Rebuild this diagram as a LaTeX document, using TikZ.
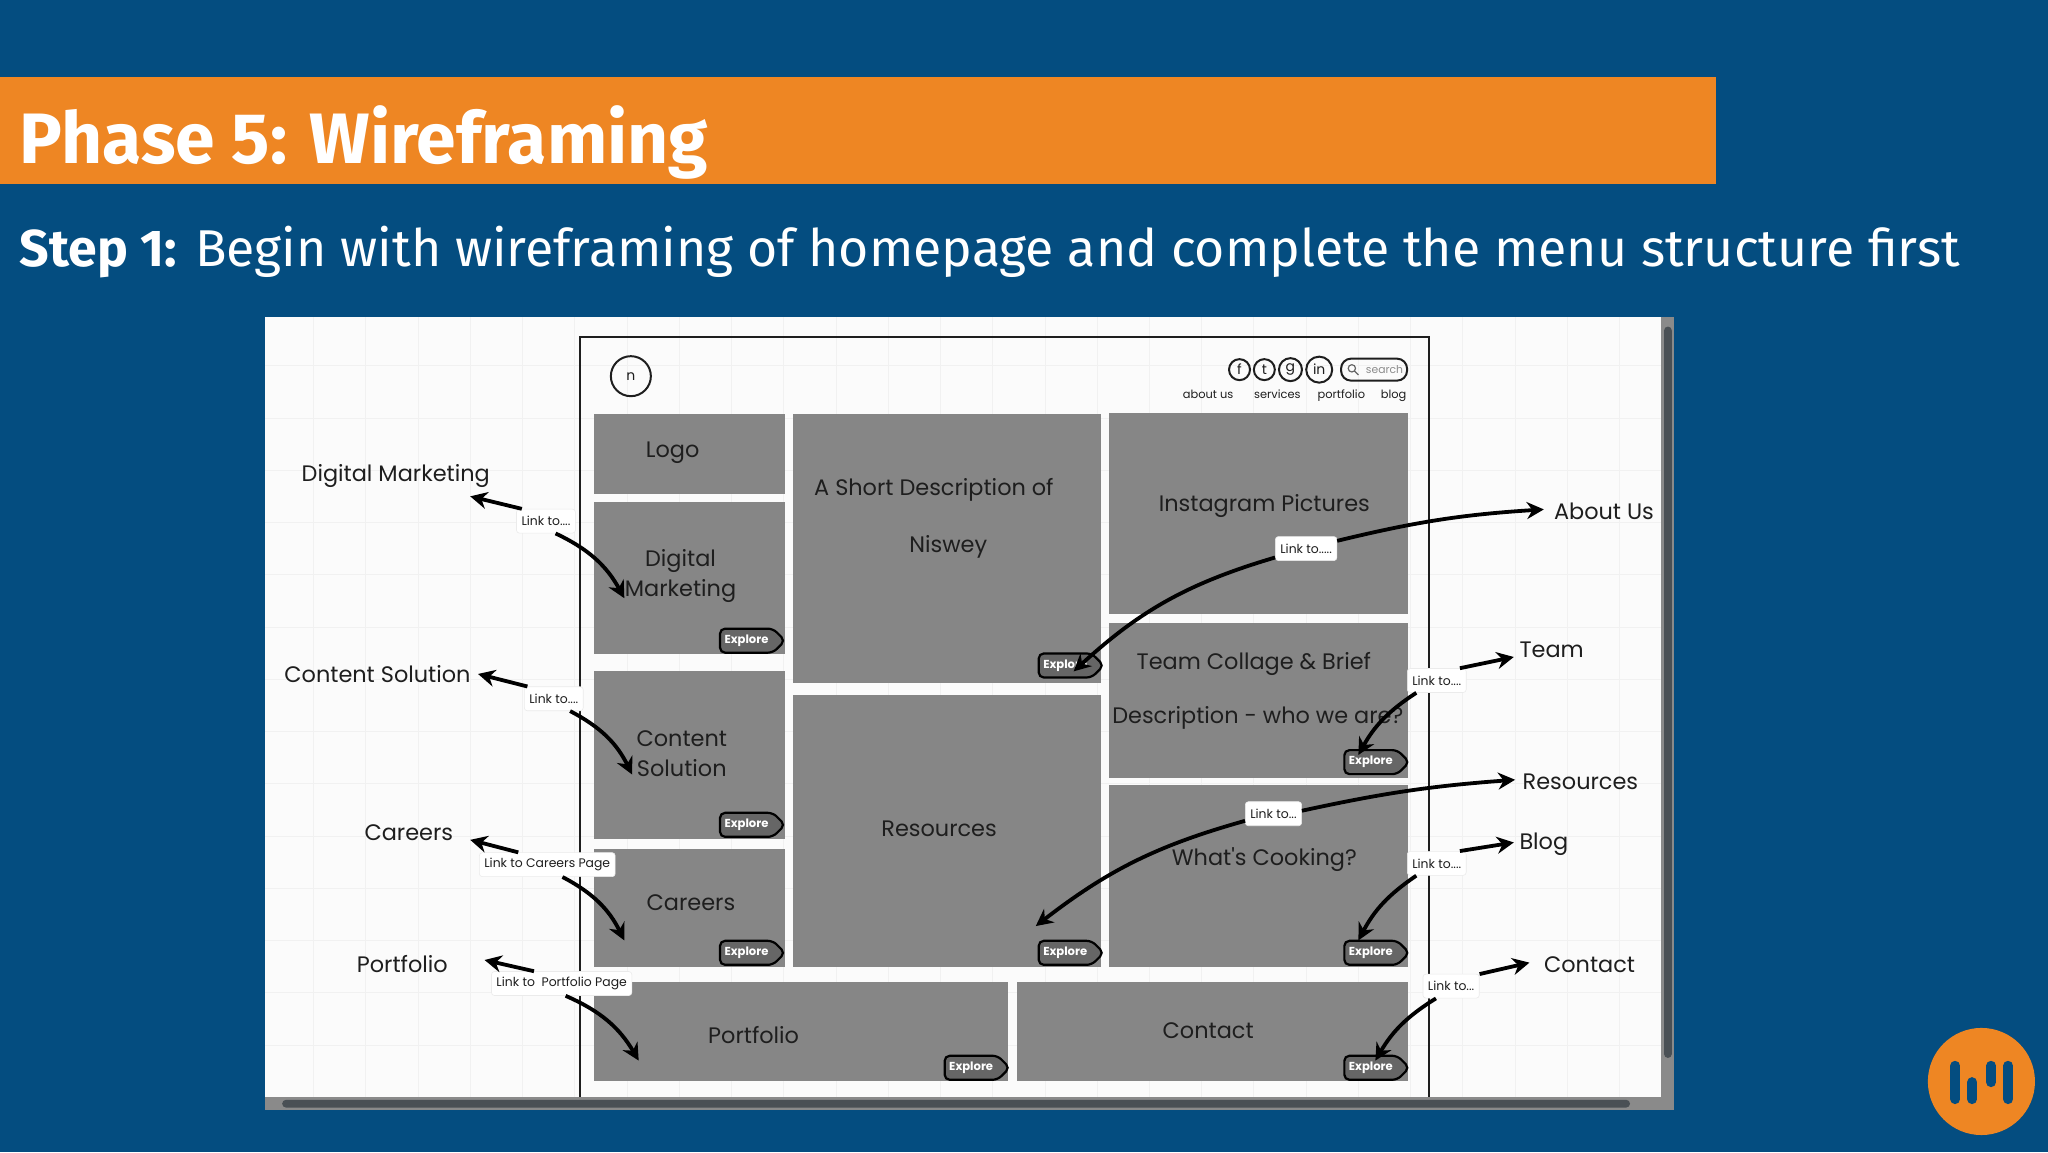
\documentclass[tikz,border=0pt]{standalone}
\usepackage{fontspec}
\usetikzlibrary{arrows.meta,shapes.symbols}
\setmainfont{Fira Sans}
\newfontfamily\sketchfont{Poppins}
\definecolor{slideblue}{HTML}{044D80}
\definecolor{barorange}{HTML}{EE8623}
\definecolor{blockgray}{HTML}{868686}
\definecolor{tagdark}{HTML}{666666}
\definecolor{scrollgray}{HTML}{8A8A8A}
\definecolor{scrolldark}{HTML}{4A5055}
\definecolor{panelwhite}{HTML}{FBFBFB}
\definecolor{gridgray}{HTML}{F1F1F1}
\definecolor{inkblack}{HTML}{1E1E1E}
\tikzset{
  block/.style={fill=blockgray,draw=none},
  sketchlabel/.style={font=\sketchfont\fontsize{11.2}{15}\selectfont,text=inkblack,align=center,inner sep=0pt,yshift=-0.2pt},
  menulabel/.style={anchor=base,font=\sketchfont\fontsize{5.7}{6}\selectfont,text=inkblack,inner sep=0pt},
  roundicon/.style={draw=inkblack,circle,line width=1pt,inner sep=0pt,font=\sketchfont\fontsize{7}{8}\selectfont,text=inkblack},
  exploretag/.style={shape=signal,signal to=east,draw=black,fill=tagdark,line width=1.1pt,rounded corners=2.5pt,
    minimum width=32.5pt,minimum height=12pt,inner sep=0pt,xshift=-1.6pt,text=white,font=\sketchfont\bfseries\fontsize{5.8}{6}\selectfont},
  linkbox/.style={fill=white,draw=black!8,line width=0.3pt,rounded corners=1.5pt,inner xsep=2.5pt,inner ysep=0pt,
    minimum height=12pt,text=inkblack,font=\sketchfont\fontsize{6.2}{7}\selectfont},
  linkarrow/.style={-{Stealth[length=8.5pt,width=8.5pt]},line width=1.9pt,black},
}
\begin{document}
\begin{tikzpicture}[x=0.65306pt,y=-0.65306pt]
  \useasboundingbox (0,0) rectangle (1568,882);

  % Slide background and heading
  \fill[slideblue] (0,0) rectangle (1568,882);
  \fill[barorange] (0,59) rectangle (1314,141);
  \node[anchor=base west,inner sep=0pt,text=white,font=\bfseries\fontsize{35.7}{40}\selectfont] (title) at (15,125) {Phase 5: Wireframing};
  \node[anchor=base west,inner sep=0pt,text=white,font=\fontsize{25.9}{30}\selectfont] (steptext) at (15,204) {\textbf{Step 1:} Begin with wireframing of homepage and complete the menu structure first};

  % Screenshot panel
  \fill[panelwhite] (203,243) rectangle (1282,850);
  \foreach \gx in {240,280,...,1260} {\draw[gridgray,line width=0.4pt] (\gx,243) -- (\gx,840);}
  \foreach \gy in {280,320,...,840} {\draw[gridgray,line width=0.4pt] (203,\gy) -- (1272,\gy);}
  \fill[scrollgray] (1272,243) rectangle (1282,850);
  \fill[scrollgray] (203,840) rectangle (1282,850);
  \fill[scrolldark,rounded corners=2pt] (1274,250) rectangle (1280,810);
  \fill[scrolldark,rounded corners=2pt] (216,842) rectangle (1248,848);

  % Page frame
  \draw[inkblack,line width=1pt] (444,840) -- (444,258) -- (1094,258) -- (1094,840);

  % Header
  \node[roundicon,minimum size=20pt] (logoicon) at (483,288) {n};
  \node[roundicon,minimum size=10.5pt] (iconf) at (949,283) {f};
  \node[roundicon,minimum size=10.5pt] (icont) at (968,283) {t};
  \node[roundicon,minimum size=11.5pt] (icong) at (988,283) {g};
  \node[roundicon,minimum size=13pt] (iconin) at (1010,283) {in};
  \node[draw=inkblack,line width=1pt,rounded corners=5pt,minimum width=33pt,minimum height=11pt,inner sep=0pt] (searchbox) at (1052,283) {};
  \node[font=\sketchfont\fontsize{5.4}{6}\selectfont,text=black!45,inner sep=0pt] (searchtext) at (1060,283) {search};
  \draw[black!60,line width=0.6pt] (1035,282) circle (2.8) (1037,284) -- (1040,287);
  \node[menulabel] (menuabout) at (925,305) {about us};
  \node[menulabel] (menuservices) at (978,305) {services};
  \node[menulabel] (menuportfolio) at (1027,305) {portfolio};
  \node[menulabel] (menublog) at (1067,305) {blog};

  % Grey blocks
  \fill[block] (455,317) rectangle (601,378);
  \fill[block] (455,384) rectangle (601,501);
  \fill[block] (455,514) rectangle (601,642);
  \fill[block] (455,650) rectangle (601,740);
  \fill[block] (455,752) rectangle (772,828);
  \fill[block] (779,752) rectangle (1078,828);
  \fill[block] (607,317) rectangle (843,523);
  \fill[block] (607,532) rectangle (843,740);
  \fill[block] (849,316) rectangle (1078,470);
  \fill[block] (849,477) rectangle (1078,596);
  \fill[block] (849,601) rectangle (1078,740);

  % Labels inside the blocks
  \node[sketchlabel] (logotext) at (515,346) {Logo};
  \node[sketchlabel] (dmtext) at (521,441) {Digital\\Marketing};
  \node[sketchlabel] (cstext) at (522,577) {Content\\Solution};
  \node[sketchlabel] (careerstext) at (529,691) {Careers};
  \node[sketchlabel] (portfoliotext) at (577,792) {Portfolio};
  \node[sketchlabel] (contacttext) at (925,789) {Contact};
  \node[sketchlabel] (shorttext) at (715,375) {A Short Description of};
  \node[sketchlabel] (niswey) at (726,418) {Niswey};
  \node[sketchlabel] (resourcestext) at (719,634) {Resources};
  \node[sketchlabel] (instatext) at (968,387) {Instagram Pictures};
  \node[sketchlabel] (teamtext) at (960,508) {Team Collage \& Brief};
  \node[sketchlabel] (whotext) at (963,549) {Description - who we are?};
  \node[sketchlabel] (cookingtext) at (968,658) {What's Cooking?};

  % Explore tags
  \node[exploretag] (tagdm) at (574,490.5) {Explore};
  \node[exploretag] (tagcs) at (574,631.5) {Explore};
  \node[exploretag] (tagcareers) at (574,729.5) {Explore};
  \node[exploretag] (tagportfolio) at (746,817.5) {Explore};
  \node[exploretag] (tagshort) at (818,509.5) {Explore};
  \node[exploretag] (tagresources) at (818,729.5) {Explore};
  \node[exploretag] (tagteam) at (1052,583.5) {Explore};
  \node[exploretag] (tagcooking) at (1052,729.5) {Explore};
  \node[exploretag] (tagcontact) at (1052,817.5) {Explore};

  % Menu names outside the page
  \node[sketchlabel] (outdm) at (303,364) {Digital Marketing};
  \node[sketchlabel] (outcs) at (289,516) {Content Solution};
  \node[sketchlabel] (outcareers) at (313,637) {Careers};
  \node[sketchlabel] (outportfolio) at (308,738) {Portfolio};
  \node[sketchlabel] (outabout) at (1228,391) {About Us};
  \node[sketchlabel] (outteam) at (1188,497) {Team};
  \node[sketchlabel] (outresources) at (1210,598) {Resources};
  \node[sketchlabel] (outblog) at (1182,646) {Blog};
  \node[sketchlabel] (outcontact) at (1217,738) {Contact};

  % Link boxes
  \node[linkbox] (linkdm) at (418,399) {Link to....};
  \node[linkbox] (linkcs) at (424,535) {Link to....};
  \node[linkbox] (linkcareers) at (419,662) {Link to Careers Page};
  \node[linkbox] (linkportfolio) at (430,753) {Link to\ \ Portfolio Page};
  \node[linkbox] (linkabout) at (1000,420) {Link to.....};
  \node[linkbox] (linkteam) at (1100,521) {Link to....};
  \node[linkbox] (linkresources) at (975,623) {Link to...};
  \node[linkbox] (linkblog) at (1100,661) {Link to....};
  \node[linkbox] (linkcontact) at (1111,755) {Link to...};

  % Free ends of the arrows
  \coordinate (enddm) at (360,380);
  \coordinate (startdm) at (478,458);
  \coordinate (endcs) at (366,516);
  \coordinate (startcs) at (484,593);
  \coordinate (endcareers) at (360,643);
  \coordinate (startcareers) at (478,720);
  \coordinate (endportfolio) at (371,735);
  \coordinate (startportfolio) at (489,812);
  \coordinate (endabout) at (1182,390);
  \coordinate (startabout) at (822,514);
  \coordinate (endteam) at (1159,503);
  \coordinate (startteam) at (1040,578);
  \coordinate (endresources) at (1160,597);
  \coordinate (startresources) at (793,709);
  \coordinate (endblog) at (1159,645);
  \coordinate (startblog) at (1040,720);
  \coordinate (endcontact) at (1171,737);
  \coordinate (startcontact) at (1053,812);

  % Arrows
  \draw[linkarrow] (linkdm.153) -- (enddm);
  \draw[linkarrow] (linkdm.-52) to[bend left=18] (startdm);
  \draw[linkarrow] (linkcs.155) -- (endcs);
  \draw[linkarrow] (linkcs.-37) to[bend left=18] (startcs);
  \draw[linkarrow] (linkcareers.157) -- (endcareers);
  \draw[linkarrow] (linkcareers.-39) to[bend left=18] (startcareers);
  \draw[linkarrow] (linkportfolio.156) -- (endportfolio);
  \draw[linkarrow] (linkportfolio.-72) to[bend left=18] (startportfolio);
  \draw[linkarrow] (linkabout.14) to[bend left=5] (endabout);
  \draw[linkarrow] (linkabout.-164) to[bend right=13] (startabout);
  \draw[linkarrow] (linkteam.28) -- (endteam);
  \draw[linkarrow] (linkteam.-149) to[bend right=14] (startteam);
  \draw[linkarrow] (linkresources.6) to[bend left=4] (endresources);
  \draw[linkarrow] (linkresources.-166) to[bend right=11] (startresources);
  \draw[linkarrow] (linkblog.28) -- (endblog);
  \draw[linkarrow] (linkblog.-149) to[bend right=14] (startblog);
  \draw[linkarrow] (linkcontact.23) -- (endcontact);
  \draw[linkarrow] (linkcontact.-141) to[bend right=14] (startcontact);

  % Corner logo
  \fill[barorange] (1517,828) circle (41);
  \draw[slideblue,line width=5pt,line cap=round] (1497,816) -- (1497,841.5);
  \draw[slideblue,line width=5pt,line cap=round] (1510,828.5) -- (1510,841.5);
  \draw[slideblue,line width=5pt,line cap=round] (1524.5,816) -- (1524.5,828.5);
  \draw[slideblue,line width=5pt,line cap=round] (1537.5,816) -- (1537.5,841.5);
\end{tikzpicture}
\end{document}
